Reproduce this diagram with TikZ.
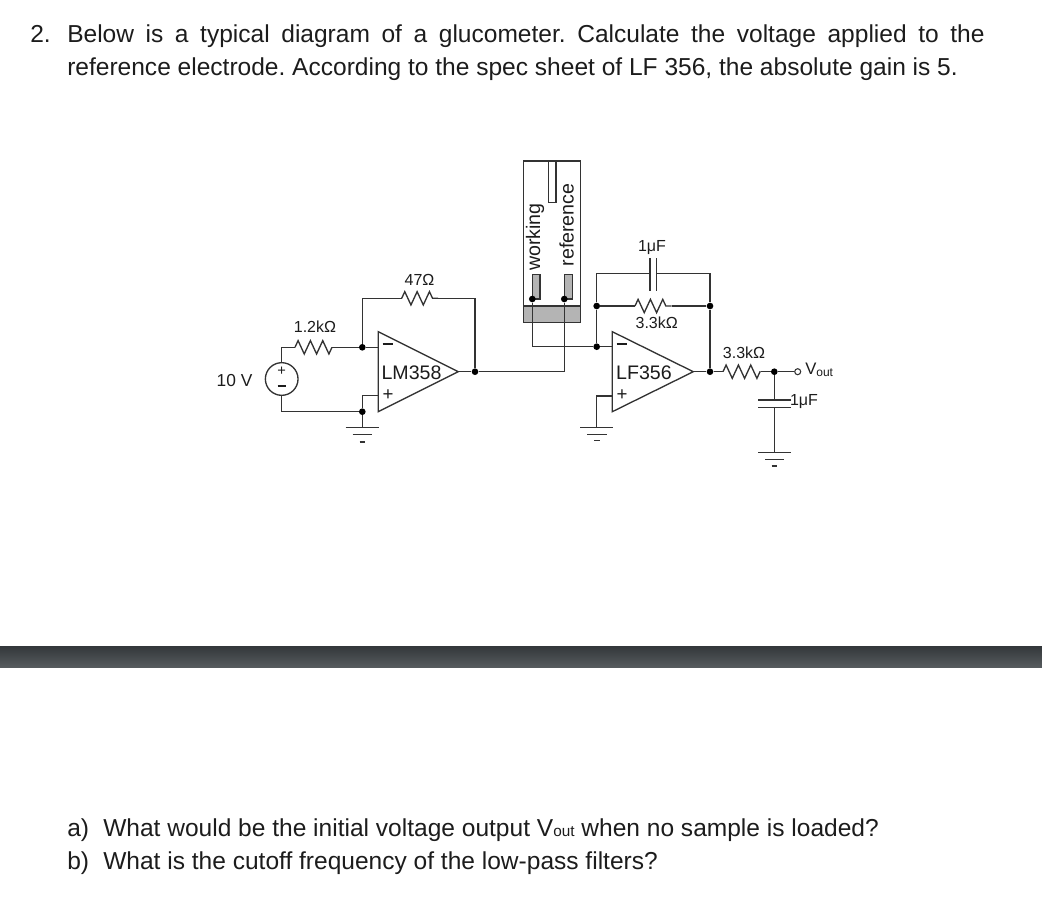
\documentclass[tikz,border=0pt]{standalone}
\usepackage{fontspec}
\setmainfont{Liberation Sans}
\usetikzlibrary{decorations.pathmorphing}
\definecolor{ink}{HTML}{1C1C1C}
\definecolor{wirec}{HTML}{333333}
\definecolor{padc}{HTML}{B4B4B4}
\definecolor{bartop}{HTML}{33373A}
\definecolor{barbot}{HTML}{565B5E}
\frenchspacing
\tikzset{
  wire/.style={draw=wirec,line width=1pt},
  res/.style={wire,decorate,decoration={zigzag,segment length=9.25pt,amplitude=5pt}},
  dot/.style={circle,fill=black,inner sep=0pt,minimum size=5pt},
  opendot/.style={circle,draw=wirec,fill=white,line width=0.8pt,inner sep=0pt,minimum size=4.5pt},
  para/.style={anchor=base west,inner sep=0pt,text=ink,font=\fontsize{18.4}{22}\selectfont},
  lab/.style={inner sep=0pt,text=ink,font=\fontsize{12}{13}\selectfont},
  amp/.style={inner sep=0pt,text=ink,font=\fontsize{14.7}{16}\selectfont},
  vert/.style={inner sep=0pt,text=ink,rotate=90,font=\fontsize{14.7}{16}\selectfont},
  sign/.style={inner sep=0pt,text=ink,font=\fontsize{14}{15}\selectfont},
}
\begin{document}
\begin{tikzpicture}[x=0.75pt,y=-0.75pt]
\useasboundingbox (0,0) rectangle (1042,896);
% text
\node[para] (t0) at (30,42) {2.};
\node[para] (t1) at (67,42) {\makebox[688pt][s]{Below is a typical diagram of a glucometer. Calculate the voltage applied to the}};
\node[para] (t2) at (67,75) {reference electrode. According to the spec sheet of LF 356, the absolute gain is 5.};
\node[para] (t3a) at (67,836.5) {a)};
\node[para] (t3) at (103,836.5) {What would be the initial voltage output V{\fontsize{11.5}{14}\selectfont out} when no sample is loaded?};
\node[para] (t4a) at (67,869.5) {b)};
\node[para] (t4) at (103,869.5) {What is the cutoff frequency of the low-pass filters?};
% bar
\path[top color=bartop,bottom color=barbot,draw=none] (0,646) rectangle (1042,667);
% test strip
\path[fill=padc] (523.3,306) rectangle (580.7,322.3);
\draw[wire] (523.3,161) rectangle (580.7,322.3);
\draw[wire] (523.3,306) -- (580.7,306);
\draw[wire] (548.3,161) rectangle (556,202.3);
\draw[wire,fill=padc] (532.3,274.3) rectangle (540,299);
\draw[wire,fill=padc] (564.3,274.3) rectangle (572.3,299);
\node[vert] (lw) at (535,237) {working};
\node[vert] (lr) at (566.7,225) {reference};
% coordinates
\coordinate (srcT) at (281.7,347.3);
\coordinate (srcB) at (281.7,411.7);
\coordinate (r1a) at (295,347.3);
\coordinate (r1b) at (332,347.3);
\coordinate (fbT1) at (362.3,298.3);
\coordinate (r2a) at (401.7,298.3);
\coordinate (r2b) at (438,298.3);
\coordinate (fbT2) at (475,298.3);
\coordinate (inP1) at (362.3,395.7);
\coordinate (g1) at (362.3,427.7);
\coordinate (cr) at (564.3,371.7);
\coordinate (cw) at (532.3,346.7);
\coordinate (fb2TL) at (596.7,273.3);
\coordinate (fb2TR) at (710,273.3);
\coordinate (c1a) at (650,273.3);
\coordinate (c1b) at (656.7,273.3);
\coordinate (r3a) at (635,306);
\coordinate (r3b) at (671.7,306);
\coordinate (inP2) at (596.7,396);
\coordinate (g2) at (596.7,427.7);
\coordinate (r4a) at (723,371.7);
\coordinate (r4b) at (760.7,371.7);
\coordinate (c2a) at (774.3,400);
\coordinate (c2b) at (774.3,407.3);
\coordinate (g3) at (774.3,452.3);
% op amps
\draw[wire,fill=white] (378.3,331.7) -- (458.3,371.7) -- (378.3,411.7) -- cycle;
\draw[wire,fill=white] (612.3,331.7) -- (693.3,371.7) -- (612.3,411.7) -- cycle;
\coordinate (u1m) at (378.3,347.3);
\coordinate (u1p) at (378.3,395.7);
\coordinate (u1o) at (458.3,371.7);
\coordinate (u2m) at (612.3,346.7);
\coordinate (u2p) at (612.3,396);
\coordinate (u2o) at (693.3,371.7);
\node[amp] (lm) at (411.5,372.5) {LM358};
\node[amp] (lf) at (644,373) {LF356};
\node[sign] (s1m) at (388,344) {\rule{8pt}{0.8pt}};
\node[sign] (s1p) at (388,395) {+};
\node[sign] (s2m) at (622,344) {\rule{8pt}{0.8pt}};
\node[sign] (s2p) at (622,395) {+};
% source
\node[circle,draw=wirec,line width=1pt,minimum size=24.5pt,inner sep=0pt] (src) at (281.7,379) {};
\node[sign,font=\fontsize{11}{12}\selectfont] (sp) at (281.7,371) {+};
\node[sign] (sm) at (281.7,386) {\rule{6pt}{0.8pt}};
\node[lab,font=\fontsize{13}{14}\selectfont] (v10) at (234.5,381) {10 V};
% dots
\node[dot] (n1) at (362.3,347.3) {};
\node[dot] (n2) at (362.3,411.7) {};
\node[dot] (n3) at (475,371.7) {};
\node[dot] (nw) at (532.3,299) {};
\node[dot] (nr) at (564.3,299) {};
\node[dot] (n4) at (596.7,346.7) {};
\node[dot] (n5) at (596.7,306) {};
\node[dot] (n6) at (710,306) {};
\node[dot] (n7) at (710,371.7) {};
\node[dot] (n8) at (774.3,371.7) {};
\node[opendot] (vo) at (797.7,371.7) {};
% wires
\draw[wire] (src) -- (srcT) -- (r1a);
\draw[res] (r1a) -- (r1b);
\draw[wire] (r1b) -- (n1) -- (u1m);
\draw[wire] (n1) -- (fbT1) -- (r2a);
\draw[res] (r2a) -- (r2b);
\draw[wire] (r2b) -- (fbT2) -- (n3);
\draw[wire] (u1o) -- (n3) -- (cr) -- (nr);
\draw[wire] (src) -- (srcB) -- (n2);
\draw[wire] (u1p) -- (inP1) -- (n2) -- (g1);
\draw[wire] (nw) -- (cw) -- (n4) -- (u2m);
\draw[wire] (n4) -- (n5) -- (fb2TL) -- (c1a);
\draw[wire] (c1b) -- (fb2TR) -- (n6) -- (n7);
\draw[wire] (n5) -- (r3a);
\draw[res] (r3a) -- (r3b);
\draw[wire] (r3b) -- (n6);
\draw[wire] (u2p) -- (inP2) -- (g2);
\draw[wire] (u2o) -- (n7) -- (r4a);
\draw[res] (r4a) -- (r4b);
\draw[wire] (r4b) -- (n8) -- (vo);
\draw[wire] (n8) -- (c2a);
\draw[wire] (c2b) -- (g3);
% capacitors
\draw[wire] (650,258) -- (650,290.7);
\draw[wire] (656.7,258) -- (656.7,290.7);
\draw[wire] (758,400) -- (790.7,400);
\draw[wire] (758,407.3) -- (790.7,407.3);
% grounds
\draw[wire] (345.7,427.7) -- (379,427.7);
\draw[wire] (352.7,434.3) -- (372,434.3);
\draw[wire] (359.5,442) -- (365,442);
\draw[wire] (580,427.7) -- (613.3,427.7);
\draw[wire] (587,434.3) -- (606.5,434.3);
\draw[wire] (594,440.7) -- (599.5,440.7);
\draw[wire] (758,452.3) -- (790.7,452.3);
\draw[wire] (765,459.3) -- (784.3,459.3);
\draw[wire] (771.7,466) -- (777.3,466);
% labels
\node[lab] (l1) at (315,327) {1.2kΩ};
\node[lab] (l2) at (419.5,279.5) {47Ω};
\node[lab] (l3) at (652,247.5) {1μF};
\node[lab] (l4) at (656.7,322.5) {3.3kΩ};
\node[lab] (l5) at (744,352.5) {3.3kΩ};
\node[lab] (l6) at (804,402) {1μF};
\node[lab,anchor=west] (l7) at (805,369.5) {\fontsize{12.5}{14}\selectfont V{\fontsize{9}{10}\selectfont\raisebox{-1.5pt}{out}}};
\end{tikzpicture}
\end{document}
